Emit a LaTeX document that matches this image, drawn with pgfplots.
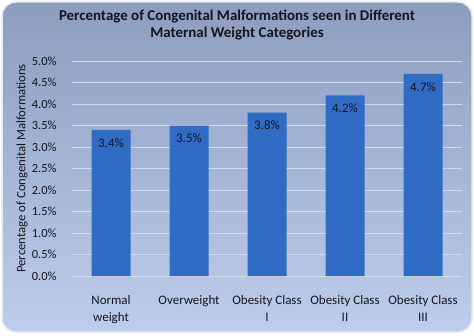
\documentclass[border=0pt]{standalone}
\usepackage{fontspec}
\setmainfont{Carlito}
\usepackage{pgfplots}
\pgfplotsset{compat=1.18}
\definecolor{bgtop}{RGB}{140,157,190}
\definecolor{bgbot}{RGB}{190,205,235}
\definecolor{barc}{RGB}{48,108,196}
\definecolor{gridc}{RGB}{210,220,238}
\definecolor{txt}{RGB}{20,20,30}
\begin{document}
\begin{tikzpicture}[x=1bp,y=1bp]
\path[use as bounding box] (0,0) rectangle (474,335);
\shade[rounded corners=14bp, top color=bgtop, bottom color=bgbot, draw=white!60!bgbot, line width=1.5bp] (2,3) rectangle (472,333);
\node[font=\bfseries\fontsize{15}{16.5}\selectfont, align=center, text=txt] at (237,310) {Percentage of Congenital Malformations seen in Different\\Maternal Weight Categories};
\begin{axis}[
  at={(72bp,59bp)}, anchor=south west,
  width=390bp, height=215bp, scale only axis,
  xmin=-0.5, xmax=4.5, ymin=0, ymax=5,
  ytick={0,0.5,1,1.5,2,2.5,3,3.5,4,4.5,5},
  yticklabel={\pgfmathprintnumber[fixed,fixed zerofill,precision=1]{\tick}\%},
  /pgf/number format/assume math mode=true,
  yticklabel style={font=\fontsize{12.5}{14}\selectfont, text=txt, anchor=east, xshift=-12bp},
  xtick=data,
  xticklabels={{Normal\\weight},{Overweight},{Obesity Class\\I},{Obesity Class\\II},{Obesity Class\\III}},
  xticklabel style={font=\fontsize{13}{17}\selectfont, text=txt, align=center, anchor=north, yshift=-16bp},
  major tick length=0pt,
  axis line style={draw=none},
  ymajorgrids, grid style={color=gridc, line width=0.9bp},
  ylabel={Percentage of Congenital Malformations},
  ylabel style={at={(axis description cs:-0.128,0.5)}, anchor=center, font=\fontsize{12.8}{14}\selectfont, text=txt},
  ybar, bar width=39bp,
  nodes near coords={\pgfmathprintnumber[fixed,fixed zerofill,precision=1]{\pgfplotspointmeta}\%},
  nodes near coords style={anchor=north, yshift=-5bp, font=\fontsize{13}{15}\selectfont, text=txt, /pgf/number format/assume math mode=true},
]
\addplot[fill=barc, draw=none] coordinates {(0,3.4) (1,3.5) (2,3.8) (3,4.2) (4,4.7)};
\end{axis}
\end{tikzpicture}
\end{document}
